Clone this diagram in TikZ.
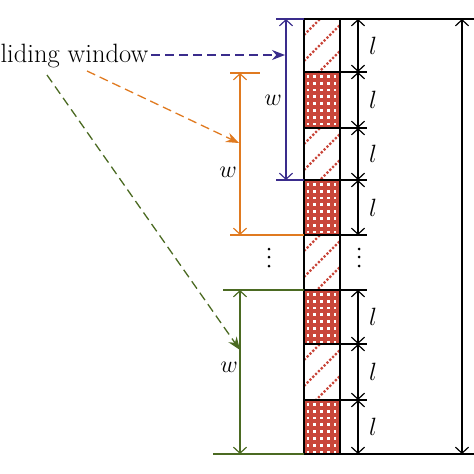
\RequirePackage{fix-cm}
\documentclass[tikz,border=0pt]{standalone}
\usetikzlibrary{arrows.meta}
\definecolor{wblue}{HTML}{3A2C8C}
\definecolor{worange}{HTML}{E07A20}
\definecolor{wgreen}{HTML}{4B6A22}
\definecolor{cellred}{HTML}{C9463A}
\begin{document}
\begin{tikzpicture}[x=1pt,y=-1pt,line width=1.2pt,
  dim/.style={{Straight Barb[length=6pt,width=13pt]}-{Straight Barb[length=6pt,width=13pt]}},
  ptr/.style={line width=1.3pt,dash pattern=on 9pt off 5pt,-{Stealth[length=13pt,width=10pt]}},
  llab/.style={font=\fontsize{25}{28}\selectfont,inner sep=0pt},
  wlab/.style={font=\fontsize{24}{28}\selectfont,inner sep=0pt},
  hatch/.style={cellred,line width=2.2pt,dash pattern=on 2.2pt off 1.8pt},
  dotc/.style={circle,fill=black,inner sep=0pt,minimum size=3pt}]
\useasboundingbox (0,0) rectangle (474,474);

% cells
\foreach \a/\b in {72/128,180/235,290/344,400/454}{
  \fill[cellred] (304,\a) rectangle (340,\b);
  \foreach \i in {0,...,4}{
    \foreach \j in {0,...,7}{
      \fill[white] ({306.5+\i*6.8},{\a+3+\j*6.8}) rectangle ++(2.7,2.7);
    }
  }
}
\foreach \a/\b in {19/72,128/180,235/290,344/400}{
  \begin{scope}
    \clip (304,\a) rectangle (340,\b);
    \foreach \o in {16,42,68}{
      \draw[hatch] (304,{\a+\o}) -- (340,{\a+\o-36});
    }
  \end{scope}
}
\draw (304,19) rectangle (340,454);
\foreach \y in {72,128,180,235,290,344,400}{
  \draw (304,\y) -- (367,\y);
}

% right dimension arrows
\foreach \a/\b in {19/72,72/128,128/180,180/235,290/344,344/400,400/454}{
  \coordinate (ra\a) at (358,\a);
  \coordinate (rb\a) at (358,\b);
  \draw[dim] (ra\a) -- (rb\a);
  \node[llab] (l\a) at (373,{(\a+\b)/2}) {$l$};
}
\coordinate (tl) at (304,19);
\coordinate (tr) at (474,19);
\coordinate (bl) at (304,454);
\coordinate (br) at (474,454);
\draw (tl) -- (tr);
\draw (bl) -- (br);
\coordinate (Lt) at (462,19);
\coordinate (Lb) at (462,454);
\draw[dim] (Lt) -- (Lb);

% ellipsis dots
\foreach \y in {249,257,266}{
  \node[dotc] at (269,\y) {};
  \node[dotc] at (359,\y) {};
}

% blue window
\coordinate (b1) at (276,19);
\coordinate (b2) at (276,180);
\coordinate (b2r) at (304,180);
\coordinate (b1r) at (304,19);
\draw[wblue] (b1) -- (b1r);
\draw[wblue] (b2) -- (b2r);
\coordinate (bt) at (286,19);
\coordinate (bb) at (286,180);
\draw[wblue,dim] (bt) -- (bb);
\node[wlab] (wb) at (273,100) {$w$};

% orange window
\coordinate (o1) at (230,73);
\coordinate (o1r) at (260,73);
\coordinate (o2) at (230,235);
\coordinate (o2r) at (304,235);
\draw[worange] (o1) -- (o1r);
\draw[worange] (o2) -- (o2r);
\coordinate (ot) at (240,73);
\coordinate (ob) at (240,235);
\draw[worange,dim] (ot) -- (ob);
\node[wlab] (wo) at (228,172) {$w$};

% green window
\coordinate (g1) at (223,290);
\coordinate (g1r) at (304,290);
\coordinate (g2) at (213,454);
\coordinate (g2r) at (304,454);
\draw[wgreen] (g1) -- (g1r);
\draw[wgreen] (g2) -- (g2r);
\coordinate (gt) at (240,290);
\coordinate (gb) at (240,454);
\draw[wgreen,dim] (gt) -- (gb);
\node[wlab] (wg) at (229,367) {$w$};

% label and pointers
\node[anchor=base west,inner sep=0pt,font=\fontsize{26.5}{30}\selectfont] (sw) at (0,62) {liding window};
\coordinate (sb) at (151,55);
\coordinate (tb) at (285,55);
\coordinate (so) at (87,71);
\coordinate (to) at (239,143);
\coordinate (sg) at (47,75);
\coordinate (tg) at (240,350);
\draw[wblue,ptr] (sb) -- (tb);
\draw[worange,ptr] (so) -- (to);
\draw[wgreen,ptr] (sg) -- (tg);
\end{tikzpicture}
\end{document}
